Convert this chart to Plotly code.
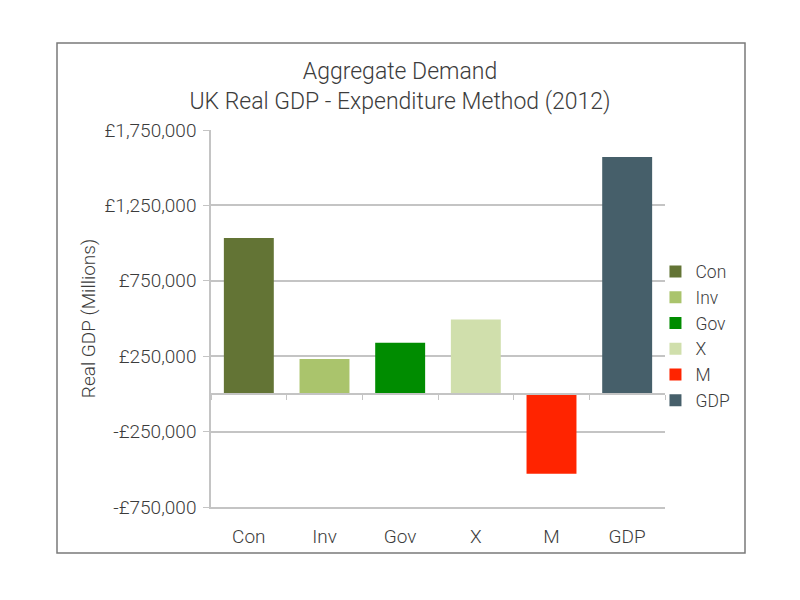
import plotly.graph_objects as go

categories = ["Con", "Inv", "Gov", "X", "M", "GDP"]
values = [1033000, 231000, 340000, 493000, -529000, 1571000]
colors = ["#637435", "#aac46c", "#008c00", "#d0dfac", "#ff2400", "#465f6a"]
tick_vals = [-750000, -250000, 250000, 750000, 1250000, 1750000]
tick_text = ["-£750,000", "-£250,000", "£250,000", "£750,000", "£1,250,000", "£1,750,000"]

FONT = "Roboto"
TXT = "#3c3c3c"
GRID = "#c4c4c4"

fig = go.Figure()
for c, v, col in zip(categories, values, colors):
    fig.add_trace(go.Bar(x=[c], y=[v], name=c, marker=dict(color=col, line=dict(width=0)),
                         width=0.66))
# invisible helper for the zero-line category axis
fig.add_trace(go.Scatter(x=categories, y=[0]*len(categories), xaxis="x2", mode="markers",
                         marker=dict(opacity=0), showlegend=False, hoverinfo="skip"))

fig.update_layout(
    width=800, height=600,
    margin=dict(l=211, r=135, t=130, b=93),
    paper_bgcolor="white", plot_bgcolor="white",
    barmode="overlay",
    font=dict(family=FONT, color=TXT, size=19, weight=300),
    title=dict(text="Aggregate Demand<br>UK Real GDP - Expenditure Method (2012)",
               x=0.5, xref="container", xanchor="center",
               y=1 - 79/600, yref="container", yanchor="top",
               font=dict(size=23, family=FONT, color=TXT, weight=300)),
    xaxis=dict(categoryorder="array", categoryarray=categories, showline=True,
               linecolor=GRID, linewidth=1.5,
               showgrid=False, ticks="", tickfont=dict(size=19), range=[-0.5, 5.5],
               ticklabelstandoff=11),
    xaxis2=dict(overlaying="x", anchor="free", position=0.3, matches="x",
                showticklabels=False, showline=True, linecolor=GRID, linewidth=1.5,
                ticks="outside", tickson="boundaries", ticklen=5, tickcolor=GRID,
                showgrid=False, categoryorder="array", categoryarray=categories),
    yaxis=dict(range=[-750000, 1750000], tickvals=tick_vals, ticktext=tick_text,
               showgrid=True, gridcolor=GRID, gridwidth=1.5, zeroline=False,
               showline=True, linecolor=GRID, linewidth=1.5,
               ticks="outside", ticklen=6, tickcolor=GRID,
               tickfont=dict(size=19), ticklabelstandoff=3,
               title=dict(text="Real GDP (Millions)", font=dict(size=19), standoff=4)),
    legend=dict(x=0.979, xanchor="left", y=(507-336)/377, yanchor="middle",
                font=dict(size=17.5), itemwidth=30, tracegroupgap=0,
                bgcolor="rgba(0,0,0,0)"),
    shapes=[dict(type="rect", xref="paper", yref="paper",
                 x0=(57-211)/454, x1=(745-211)/454,
                 y0=(507-553)/377, y1=(507-43)/377,
                 line=dict(color="#7a7a7a", width=1.5), fillcolor="rgba(0,0,0,0)",
                 layer="below")],
)

fig.write_html("out.html")
